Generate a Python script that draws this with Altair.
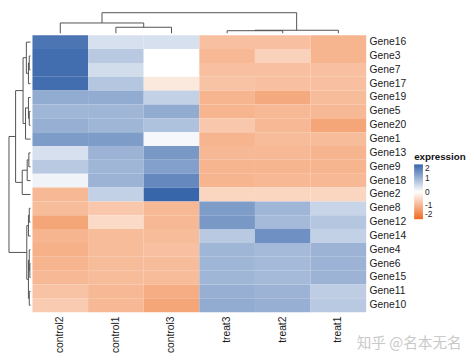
import altair as alt
import pandas as pd

# ---------------- data ----------------
samples = ["control2", "control1", "control3", "treat3", "treat2", "treat1"]
genes = ["Gene16", "Gene3", "Gene7", "Gene17", "Gene19", "Gene5", "Gene20", "Gene1",
         "Gene13", "Gene9", "Gene18", "Gene2", "Gene8", "Gene12", "Gene14", "Gene4",
         "Gene6", "Gene15", "Gene11", "Gene10"]

expression = {
    "Gene16": [1.80, 0.40, 0.40, -0.85, -0.85, -1.00],
    "Gene3":  [1.90, 0.70, 0.00, -0.95, -0.60, -1.00],
    "Gene7":  [1.90, 0.45, 0.00, -0.85, -0.85, -0.85],
    "Gene17": [1.90, 0.75, -0.30, -0.80, -0.85, -0.85],
    "Gene19": [1.10, 1.10, 0.60, -1.00, -1.15, -0.90],
    "Gene5":  [0.95, 0.95, 1.10, -1.00, -0.95, -0.95],
    "Gene20": [1.05, 0.95, 0.80, -0.75, -0.95, -1.20],
    "Gene1":  [1.30, 1.30, 0.10, -1.00, -0.90, -0.90],
    "Gene13": [0.40, 1.00, 1.35, -0.95, -0.95, -1.00],
    "Gene9":  [0.70, 0.95, 1.25, -1.00, -1.00, -1.00],
    "Gene18": [0.15, 1.00, 1.55, -1.00, -0.95, -0.95],
    "Gene2":  [-0.95, 0.60, 2.00, -0.55, -0.55, -0.55],
    "Gene8":  [-0.90, -0.75, -0.95, 1.30, 0.95, 0.55],
    "Gene12": [-1.20, -0.50, -0.95, 1.35, 0.90, 0.75],
    "Gene14": [-1.00, -0.90, -0.90, 0.70, 1.45, 0.60],
    "Gene4":  [-1.05, -0.90, -0.85, 0.95, 0.90, 1.00],
    "Gene6":  [-1.00, -0.90, -0.90, 0.95, 0.90, 1.00],
    "Gene15": [-0.95, -0.90, -0.90, 0.95, 0.90, 1.00],
    "Gene11": [-0.80, -0.95, -1.10, 1.05, 1.00, 0.65],
    "Gene10": [-0.70, -0.95, -1.20, 1.10, 1.05, 0.70],
}

# dendrogram merges (left, right, height); "mK" refers to the K-th merge
col_merges = [
    ("control1", "control3", 7.0),   # m0
    ("treat3", "treat2", 3.0),       # m1
    ("m1", "treat1", 3.5),           # m2
    ("control2", "m0", 12.0),        # m3
    ("m3", "m2", 24.0),              # m4
]
row_merges = [
    ("Gene3", "Gene7", 1.5),     # m0
    ("m0", "Gene17", 2.5),       # m1
    ("Gene16", "m1", 5.0),       # m2
    ("Gene5", "Gene20", 1.5),    # m3
    ("Gene19", "m3", 2.5),       # m4
    ("m4", "Gene1", 6.0),        # m5
    ("m2", "m5", 9.0),           # m6
    ("Gene13", "Gene9", 2.0),    # m7
    ("m7", "Gene18", 4.0),       # m8
    ("m8", "Gene2", 10.0),       # m9
    ("m6", "m9", 18.0),          # m10
    ("Gene8", "Gene12", 1.5),    # m11
    ("m11", "Gene14", 2.5),      # m12
    ("Gene6", "Gene15", 0.8),    # m13
    ("Gene4", "m13", 1.5),       # m14
    ("Gene11", "Gene10", 1.5),   # m15
    ("m14", "m15", 2.5),         # m16
    ("m12", "m16", 4.5),         # m17
    ("m10", "m17", 26.0),        # m18
]

legend_values = [2, 1, 0, -1, -2]
watermark = "知乎 @名本无名"

# ---------------- build tables ----------------
heat_df = pd.DataFrame(
    [{"gene": g, "sample": s, "value": v}
     for g in genes for s, v in zip(samples, expression[g])]
)


def dendro_segments(merges, order):
    pos = {n: i + 0.5 for i, n in enumerate(order)}
    hgt = {n: 0.0 for n in order}
    segs = []
    for k, (a, b, h) in enumerate(merges):
        for c in (a, b):
            segs.append({"p": pos[c], "p2": pos[c], "h": hgt[c], "h2": h})
        segs.append({"p": pos[a], "p2": pos[b], "h": h, "h2": h})
        pos[f"m{k}"] = (pos[a] + pos[b]) / 2
        hgt[f"m{k}"] = h
    return pd.DataFrame(segs)


top_df = dendro_segments(col_merges, samples)
left_df = dendro_segments(row_merges, genes)

# ---------------- layout (plot-area pixels) ----------------
W, H = 365, 306
HX0, HY0 = 24, 23          # heatmap top-left inside plot area
FONT = "Liberation Sans"
LINE = "#505050"

heat = alt.Chart(heat_df).mark_rect().encode(
    x=alt.X("sample:N", sort=samples,
            scale=alt.Scale(range=[HX0, W], paddingInner=0, paddingOuter=0),
            axis=alt.Axis(orient="bottom", labelAngle=-90, ticks=False, domain=False,
                          title=None, labelFontSize=10.5, labelPadding=4,
                          labelColor="#1a1a1a", labelFont=FONT)),
    y=alt.Y("gene:N", sort=genes,
            scale=alt.Scale(range=[HY0, H], paddingInner=0, paddingOuter=0),
            axis=alt.Axis(orient="right", ticks=False, domain=False, title=None,
                          labelFontSize=10.5, labelPadding=3,
                          labelColor="#1a1a1a", labelFont=FONT)),
    color=alt.Color("value:Q",
                    scale=alt.Scale(domain=[-2, 0, 2],
                                    range=["#EE6A1F", "#FFFFFF", "#3866AB"],
                                    interpolate="rgb"),
                    legend=alt.Legend(orient="none", legendX=414, legendY=142,
                                      title="expression", titleFontSize=10,
                                      titleFontWeight="bold", titleColor="#111",
                                      titleFont=FONT, titlePadding=3,
                                      labelFontSize=8.5, labelFont=FONT,
                                      labelColor="#1a1a1a", labelOffset=2,
                                      labelOverlap=False,
                                      labelExpr="'' + datum.value",
                                      gradientLength=56, gradientThickness=9,
                                      gradientStrokeWidth=0, values=legend_values,
                                      direction="vertical")),
)

top = alt.Chart(top_df).mark_rule(color=LINE, strokeWidth=1).encode(
    x=alt.X("p:Q", scale=alt.Scale(domain=[0, 6], range=[HX0, W], nice=False, zero=False), axis=None),
    x2="p2:Q",
    y=alt.Y("h:Q", scale=alt.Scale(domain=[0, 24], range=[HY0 - 2, 0], nice=False), axis=None),
    y2="h2:Q",
)

left = alt.Chart(left_df).mark_rule(color=LINE, strokeWidth=1).encode(
    x=alt.X("h:Q", scale=alt.Scale(domain=[0, 26], range=[HX0 - 2, 0], nice=False), axis=None),
    x2="h2:Q",
    y=alt.Y("p:Q", scale=alt.Scale(domain=[0, 20], range=[HY0, H], nice=False, zero=False), axis=None),
    y2="p2:Q",
)

wm = alt.Chart(pd.DataFrame({"t": [watermark]})).mark_text(
    font="Noto Sans CJK SC", fontSize=15, color="#c9c9c9", align="center", baseline="middle"
).encode(text="t:N", x=alt.value(409), y=alt.value(338))

chart = alt.layer(heat, top, left, wm).resolve_scale(
    x="independent", y="independent"
).properties(
    width=W, height=H, padding={"left": 0, "top": 0, "right": 0, "bottom": 0}
).configure(
    background="white", font=FONT, view=alt.ViewConfig(strokeWidth=0)
)

chart.save("out.html", embed_options={"renderer": "svg", "actions": False})
